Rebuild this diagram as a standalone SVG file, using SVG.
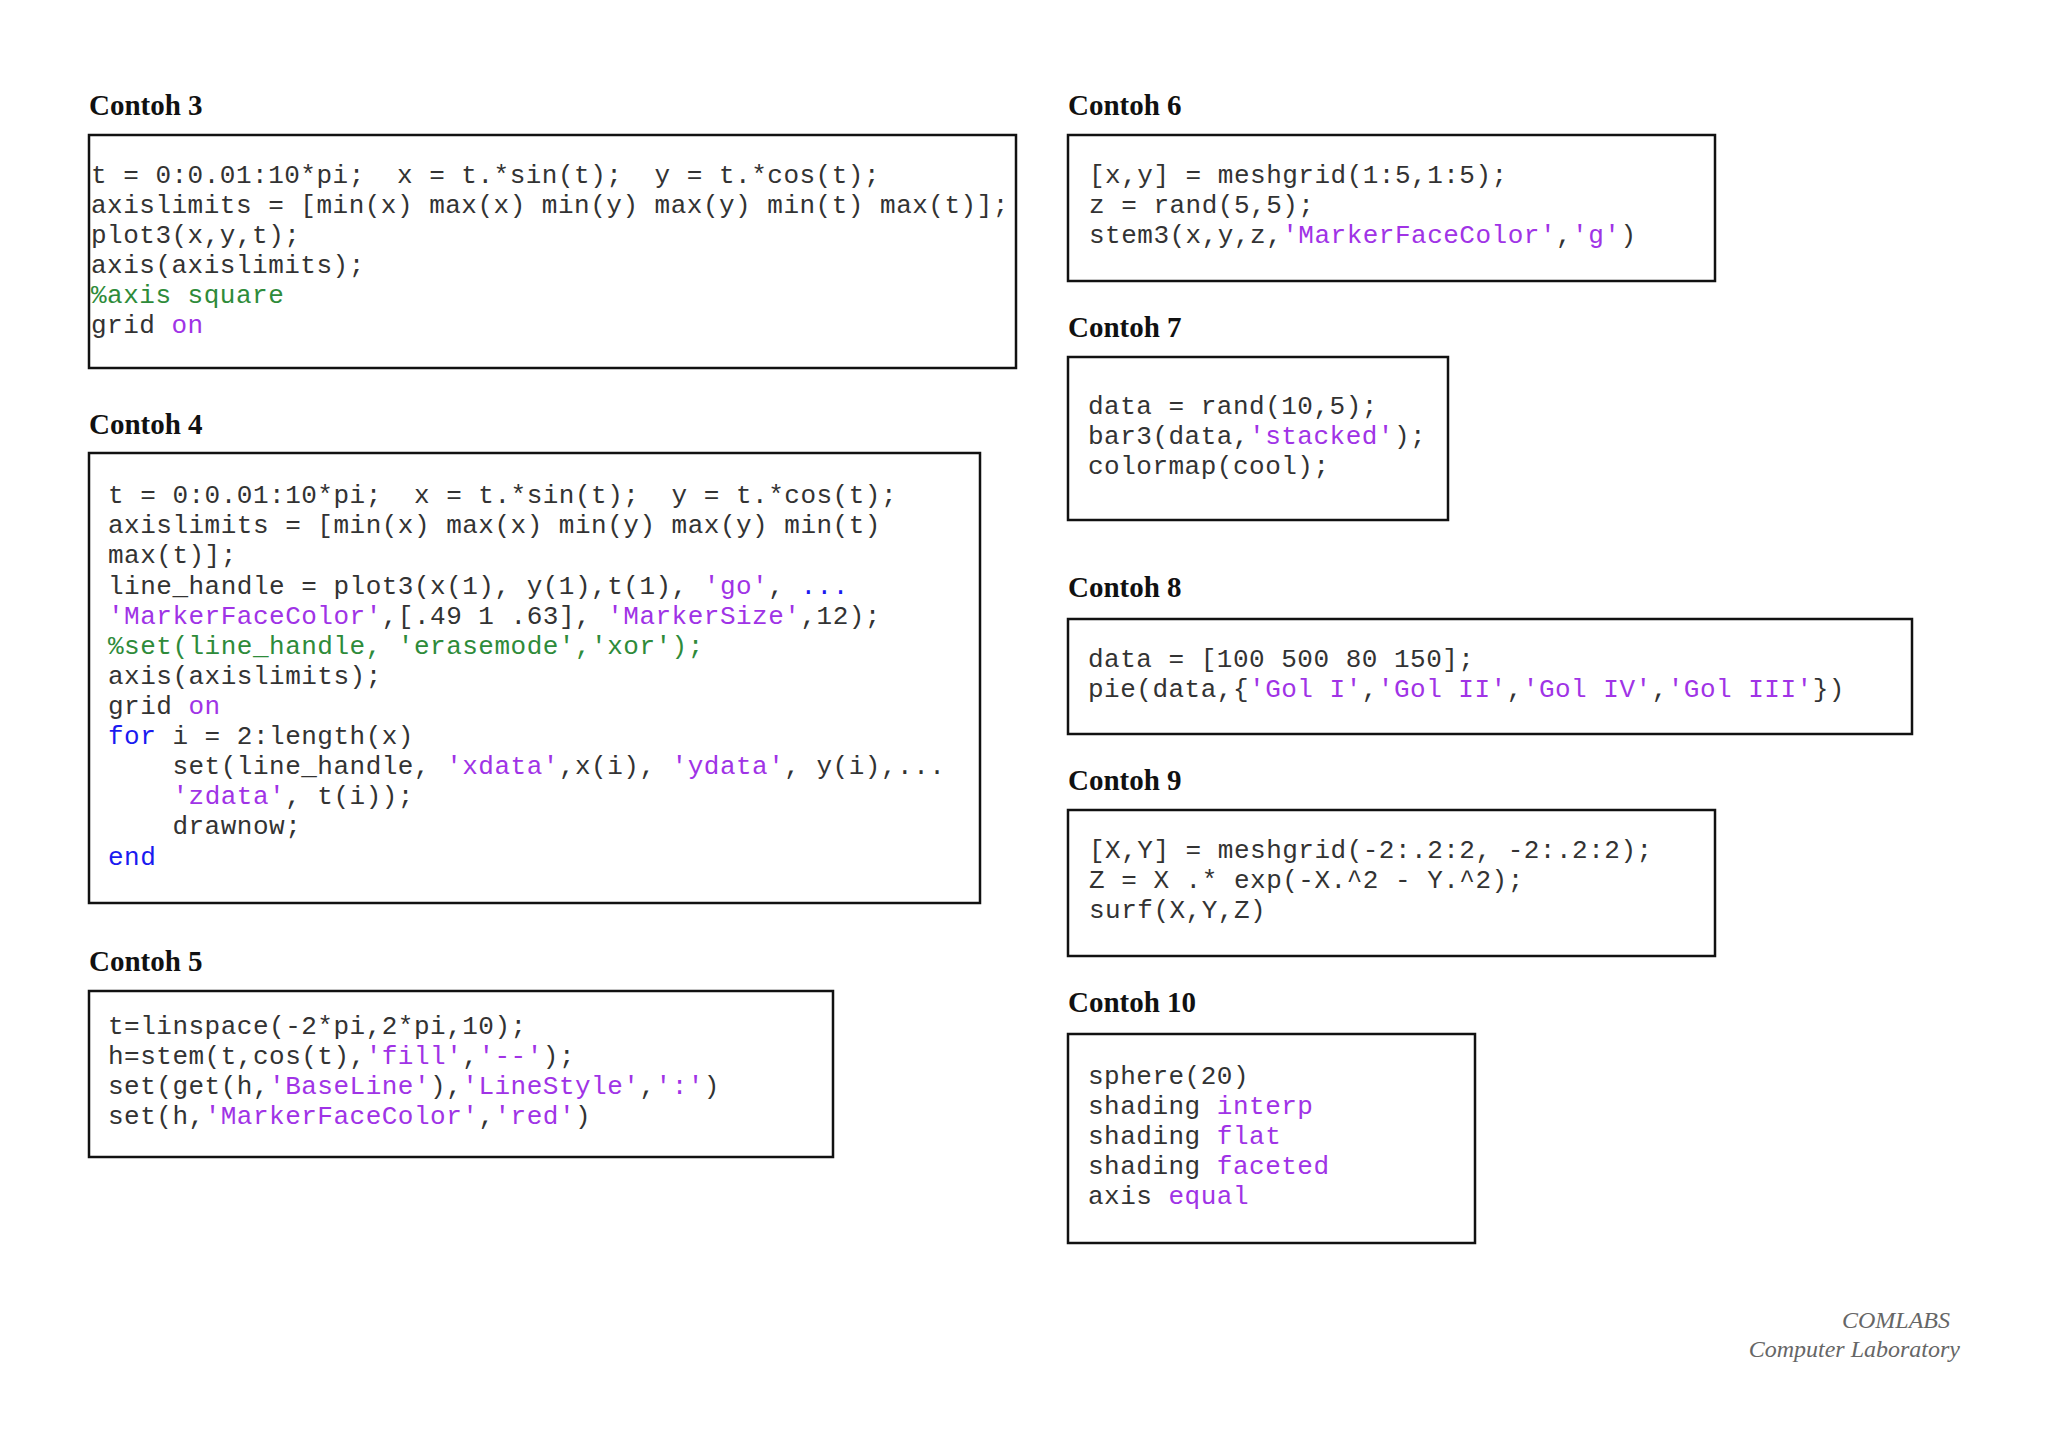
<svg xmlns="http://www.w3.org/2000/svg" width="2048" height="1449" viewBox="0 0 2048 1449">
<style>
.t{font-family:"Liberation Serif",serif;font-weight:bold;font-size:29px;fill:#111}
.c{font-family:"Liberation Mono","DejaVu Sans Mono",monospace;font-size:26px;letter-spacing:0.5px;fill:#333;white-space:pre}
.b{fill:none;stroke:#111;stroke-width:2.5}
.s{fill:#A033E6}.g{fill:#2E8B3A}.k{fill:#1a1aF0}
.f{font-family:"Liberation Serif",serif;font-style:italic;font-size:24px;fill:#666;text-anchor:end}
</style>
<rect width="2048" height="1449" fill="#fff"/>
<g id="c3">
<text class="t" x="89" y="115">Contoh 3</text>
<rect class="b" x="89" y="135" width="927" height="233"/>
<text class="c" xml:space="preserve"><tspan x="91" y="183">t = 0:0.01:10*pi;  x = t.*sin(t);  y = t.*cos(t);</tspan><tspan x="91" y="213">axislimits = [min(x) max(x) min(y) max(y) min(t) max(t)];</tspan><tspan x="91" y="243">plot3(x,y,t);</tspan><tspan x="91" y="273">axis(axislimits);</tspan><tspan x="91" y="303" class="g">%axis square</tspan><tspan x="91" y="333">grid <tspan class="s">on</tspan></tspan></text>
</g>
<g id="c4">
<text class="t" x="89" y="434">Contoh 4</text>
<rect class="b" x="89" y="453" width="891" height="450"/>
<text class="c" xml:space="preserve"><tspan x="108" y="503">t = 0:0.01:10*pi;  x = t.*sin(t);  y = t.*cos(t);</tspan><tspan x="108" y="533">axislimits = [min(x) max(x) min(y) max(y) min(t)</tspan><tspan x="108" y="563">max(t)];</tspan><tspan x="108" y="594">line_handle = plot3(x(1), y(1),t(1), <tspan class="s">'go'</tspan>, <tspan class="k">...</tspan></tspan><tspan x="108" y="624"><tspan class="s">'MarkerFaceColor'</tspan>,[.49 1 .63], <tspan class="s">'MarkerSize'</tspan>,12);</tspan><tspan x="108" y="654" class="g">%set(line_handle, 'erasemode','xor');</tspan><tspan x="108" y="684">axis(axislimits);</tspan><tspan x="108" y="714">grid <tspan class="s">on</tspan></tspan><tspan x="108" y="744"><tspan class="k">for</tspan> i = 2:length(x)</tspan><tspan x="108" y="774">    set(line_handle, <tspan class="s">'xdata'</tspan>,x(i), <tspan class="s">'ydata'</tspan>, y(i),...</tspan><tspan x="108" y="804">    <tspan class="s">'zdata'</tspan>, t(i));</tspan><tspan x="108" y="834">    drawnow;</tspan><tspan x="108" y="865" class="k">end</tspan></text>
</g>
<g id="c5">
<text class="t" x="89" y="971">Contoh 5</text>
<rect class="b" x="89" y="991" width="744" height="166"/>
<text class="c" xml:space="preserve"><tspan x="108" y="1034">t=linspace(-2*pi,2*pi,10);</tspan><tspan x="108" y="1064">h=stem(t,cos(t),<tspan class="s">'fill'</tspan>,<tspan class="s">'--'</tspan>);</tspan><tspan x="108" y="1094">set(get(h,<tspan class="s">'BaseLine'</tspan>),<tspan class="s">'LineStyle'</tspan>,<tspan class="s">':'</tspan>)</tspan><tspan x="108" y="1124">set(h,<tspan class="s">'MarkerFaceColor'</tspan>,<tspan class="s">'red'</tspan>)</tspan></text>
</g>
<g id="c6">
<text class="t" x="1068" y="115">Contoh 6</text>
<rect class="b" x="1068" y="135" width="647" height="146"/>
<text class="c" xml:space="preserve"><tspan x="1089" y="183">[x,y] = meshgrid(1:5,1:5);</tspan><tspan x="1089" y="213">z = rand(5,5);</tspan><tspan x="1089" y="243">stem3(x,y,z,<tspan class="s">'MarkerFaceColor'</tspan>,<tspan class="s">'g'</tspan>)</tspan></text>
</g>
<g id="c7">
<text class="t" x="1068" y="337">Contoh 7</text>
<rect class="b" x="1068" y="357" width="380" height="163"/>
<text class="c" xml:space="preserve"><tspan x="1088" y="414">data = rand(10,5);</tspan><tspan x="1088" y="444">bar3(data,<tspan class="s">'stacked'</tspan>);</tspan><tspan x="1088" y="474">colormap(cool);</tspan></text>
</g>
<g id="c8">
<text class="t" x="1068" y="597">Contoh 8</text>
<rect class="b" x="1068" y="619" width="844" height="115"/>
<text class="c" xml:space="preserve"><tspan x="1088" y="667">data = [100 500 80 150];</tspan><tspan x="1088" y="697">pie(data,{<tspan class="s">'Gol I'</tspan>,<tspan class="s">'Gol II'</tspan>,<tspan class="s">'Gol IV'</tspan>,<tspan class="s">'Gol III'</tspan>})</tspan></text>
</g>
<g id="c9">
<text class="t" x="1068" y="790">Contoh 9</text>
<rect class="b" x="1068" y="810" width="647" height="146"/>
<text class="c" xml:space="preserve"><tspan x="1089" y="858">[X,Y] = meshgrid(-2:.2:2, -2:.2:2);</tspan><tspan x="1089" y="888">Z = X .* exp(-X.^2 - Y.^2);</tspan><tspan x="1089" y="918">surf(X,Y,Z)</tspan></text>
</g>
<g id="c10">
<text class="t" x="1068" y="1012">Contoh 10</text>
<rect class="b" x="1068" y="1034" width="407" height="209"/>
<text class="c" xml:space="preserve"><tspan x="1088" y="1084">sphere(20)</tspan><tspan x="1088" y="1114">shading <tspan class="s">interp</tspan></tspan><tspan x="1088" y="1144">shading <tspan class="s">flat</tspan></tspan><tspan x="1088" y="1174">shading <tspan class="s">faceted</tspan></tspan><tspan x="1088" y="1204">axis <tspan class="s">equal</tspan></tspan></text>
</g>
<g id="footer">
<text class="f" x="1950" y="1328">COMLABS</text>
<text class="f" x="1960" y="1357">Computer Laboratory</text>
</g>
<g id="connectors"/>
</svg>
